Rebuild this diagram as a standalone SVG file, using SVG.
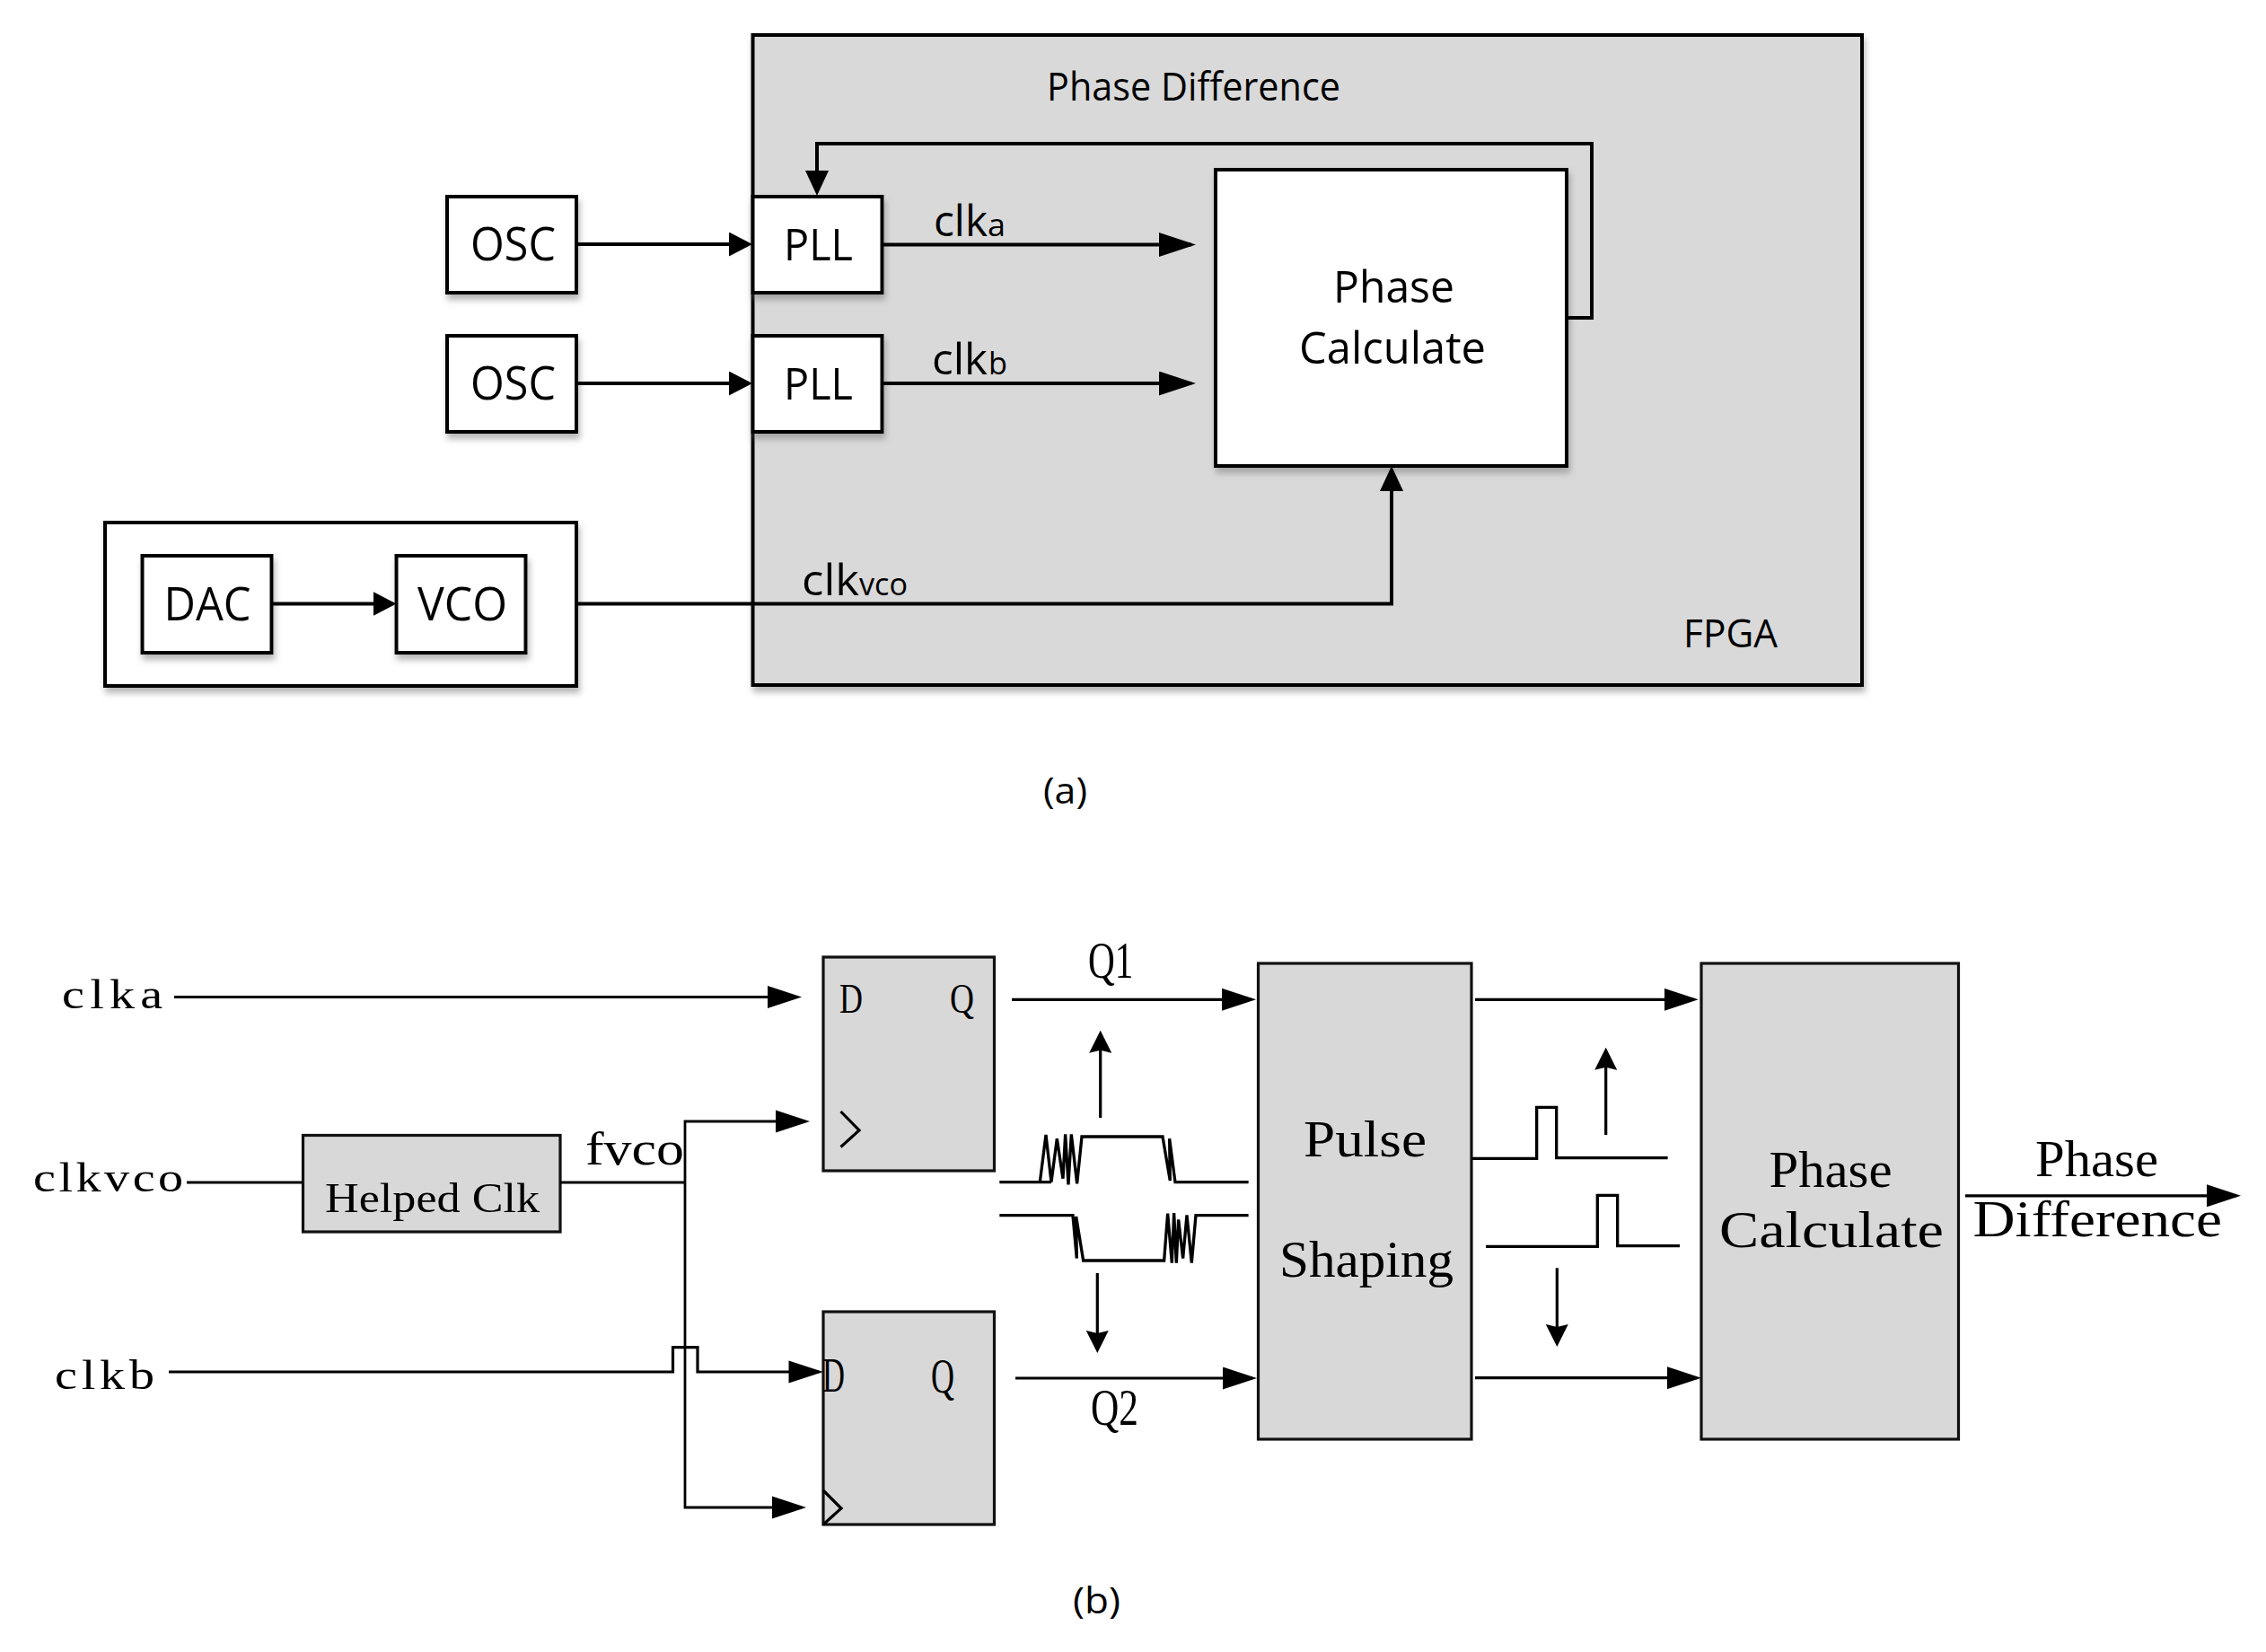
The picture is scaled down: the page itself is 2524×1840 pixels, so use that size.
<svg xmlns="http://www.w3.org/2000/svg" width="2524" height="1840" viewBox="0 0 2524 1840">
<style>
text{fill:#000}
.s{font-family:"Open Sans","Noto Sans",sans-serif}
.m{font-family:"Liberation Serif","Noto Sans CJK SC",serif}
.top{stroke:#000;stroke-width:4;fill:#fff;filter:url(#sh)}
.fpga{fill:#d9d9d9}
.bot{stroke:#111;stroke-width:3.2;fill:#d8d8d8}
.w{fill:none;stroke:#000;stroke-width:4;stroke-linejoin:miter}
.b{fill:none;stroke:#000;stroke-width:3.2;stroke-linejoin:miter}
.wave{fill:none;stroke:#000;stroke-width:10;stroke-linejoin:miter}
</style>
<defs>
<filter id="sh" x="-10%" y="-10%" width="120%" height="125%"><feDropShadow dx="2" dy="6" stdDeviation="3.5" flood-color="#7a7a7a" flood-opacity="0.55"/></filter>
<marker id="ah41" markerUnits="userSpaceOnUse" markerWidth="41" markerHeight="27" refX="36" refY="13.5" orient="auto"><polygon points="0,0 41,13.5 0,27"/></marker>
<marker id="ah26" markerUnits="userSpaceOnUse" markerWidth="26" markerHeight="27" refX="21" refY="13.5" orient="auto"><polygon points="0,0 26,13.5 0,27"/></marker>
<marker id="ah28" markerUnits="userSpaceOnUse" markerWidth="28" markerHeight="26" refX="23" refY="13" orient="auto"><polygon points="0,0 28,13 0,26"/></marker>
<marker id="ah38" markerUnits="userSpaceOnUse" markerWidth="38" markerHeight="25" refX="33" refY="12.5" orient="auto"><polygon points="0,0 38,12.5 0,25"/></marker>
<marker id="ah25" markerUnits="userSpaceOnUse" markerWidth="25" markerHeight="25" refX="20" refY="12.5" orient="auto"><polygon points="0,0 25,12.5 0,25 3,12.5"/></marker>
</defs>

<g id="fpga"><rect class="top fpga" x="838.500" y="39" width="1235.500" height="724"/>
<text class="s" x="1166" y="112" font-size="43" textLength="327" lengthAdjust="spacingAndGlyphs">Phase Difference</text>
<text class="s" x="1875" y="721" font-size="43" textLength="105" lengthAdjust="spacingAndGlyphs">FPGA</text></g>
<g id="osc-a"><rect class="top" x="498" y="219" width="144" height="107"/><text class="s" x="524" y="289.500" font-size="51" textLength="95" lengthAdjust="spacingAndGlyphs">OSC</text></g>
<g id="osc-b"><rect class="top" x="498" y="374" width="144" height="107"/><text class="s" x="524" y="445" font-size="51" textLength="95" lengthAdjust="spacingAndGlyphs">OSC</text></g>
<g id="pll-a"><rect class="top" x="838.500" y="219" width="144" height="107"/><text class="s" x="873" y="289.500" font-size="50" textLength="77" lengthAdjust="spacingAndGlyphs">PLL</text></g>
<g id="pll-b"><rect class="top" x="838.500" y="374" width="144" height="107"/><text class="s" x="873" y="445" font-size="50" textLength="77" lengthAdjust="spacingAndGlyphs">PLL</text></g>
<g id="phase-calc-a"><rect class="top" x="1354" y="189" width="391" height="330"/>
<text class="s" x="1485" y="337" font-size="50" textLength="135" lengthAdjust="spacingAndGlyphs">Phase</text>
<text class="s" x="1447" y="405" font-size="50" textLength="208" lengthAdjust="spacingAndGlyphs">Calculate</text></g>
<g id="vco-board"><rect class="top" x="117" y="582" width="525" height="182"/></g>
<g id="dac"><rect class="top" x="158.500" y="619" width="144" height="108"/><text class="s" x="182.500" y="690.500" font-size="51" textLength="97" lengthAdjust="spacingAndGlyphs">DAC</text></g>
<g id="vco"><rect class="top" x="441.500" y="619" width="144" height="108"/><text class="s" x="465" y="690.500" font-size="51" textLength="100" lengthAdjust="spacingAndGlyphs">VCO</text></g>

<g id="ff1"><rect class="bot" x="917" y="1066" width="190.500" height="238"/>
<polyline class="b" points="936.500,1238 957,1259 936.500,1277.500"/>
<text class="m" x="935" y="1128" font-size="46" textLength="26" lengthAdjust="spacingAndGlyphs">D</text>
<text class="m" x="1058" y="1128" font-size="46" textLength="27" lengthAdjust="spacingAndGlyphs">Q</text></g>
<g id="ff2"><rect class="bot" x="917" y="1461" width="190.500" height="237"/>
<polyline class="b" points="917,1660 937,1680 917,1698"/>
<text class="m" x="916" y="1550" font-size="54" textLength="25" lengthAdjust="spacingAndGlyphs">D</text>
<text class="m" x="1037" y="1550.500" font-size="54" textLength="26" lengthAdjust="spacingAndGlyphs">Q</text></g>
<g id="helped-clk"><rect class="bot" x="337.500" y="1264.500" width="286.500" height="107.500"/>
<text class="m" x="362" y="1350" font-size="46" textLength="239" lengthAdjust="spacingAndGlyphs">Helped Clk</text></g>
<g id="pulse-shaping"><rect class="bot" x="1401.500" y="1073" width="237.500" height="530"/>
<text class="m" x="1452" y="1287.500" font-size="56" textLength="137" lengthAdjust="spacingAndGlyphs">Pulse</text>
<text class="m" x="1425" y="1421.500" font-size="56" textLength="194" lengthAdjust="spacingAndGlyphs">Shaping</text></g>
<g id="phase-calc-b"><rect class="bot" x="1895" y="1073" width="286.500" height="530"/>
<text class="m" x="1970.500" y="1322" font-size="56" textLength="137" lengthAdjust="spacingAndGlyphs">Phase</text>
<text class="m" x="1915" y="1389" font-size="56" textLength="250" lengthAdjust="spacingAndGlyphs">Calculate</text></g>

<g id="connectors">
<g class="w">
<path d="M642 272H833" marker-end="url(#ah26)"/>
<path d="M642 427H833" marker-end="url(#ah26)"/>
<path d="M302.500 672.500H436.500" marker-end="url(#ah26)"/>
<path d="M982 272.500H1327" marker-end="url(#ah41)"/>
<path d="M982 427H1327" marker-end="url(#ah41)"/>
<path d="M1745 354H1773V160H910V213" marker-end="url(#ah28)"/>
<path d="M642 672.500H1550V524" marker-end="url(#ah28)"/>
</g>
<g class="b">
<path d="M194 1110.500H888" marker-end="url(#ah38)"/>
<path d="M208 1317H337"/>
<path d="M624 1317H763"/>
<path d="M897 1249H763V1679H893" stroke-width="2.800"/>
<path d="M188 1528H749.500V1500.700H777V1528H912"/>
<path d="M1127 1113.300H1394" marker-end="url(#ah38)"/>
<path d="M1131 1535H1395" marker-end="url(#ah38)"/>
<path d="M1643 1113.300H1886.700" marker-end="url(#ah38)"/>
<path d="M1643 1534.700H1890" marker-end="url(#ah38)"/>
<path d="M2189 1331.800H2491" marker-end="url(#ah38)"/>
<path d="M1225.700 1245V1152.700" marker-end="url(#ah25)"/>
<path d="M1222.300 1418V1502" marker-end="url(#ah25)"/>
<path d="M1788.700 1264V1171.700" marker-end="url(#ah25)"/>
<path d="M1734.300 1412.300V1495" marker-end="url(#ah25)"/>
</g>
<polygon points="864,1236.500 902,1249 864,1261.500"/>
<polygon points="860,1666.500 898,1679 860,1691.500"/>
<polygon points="878.500,1515.500 917,1528 878.500,1540.500"/>
</g>

<g id="waveforms">
<g transform="translate(1100 1200) scale(0.3333)">
<path class="wave" d="M40 350H213M175 350L195 192L213 350L232 205L252 338L260 190L270 358L280 190L299 355L315 198H585L610 345L608 205L627 350H872"/>
<path class="wave" d="M40 461H285L298 605L296 465L320 612H590L602 455L616 620L623 453L631 620L638 475L653 605L666 460L682 620L696 461H872"/>
</g>
<g transform="translate(1640 1130) scale(0.3333)">
<path class="wave" d="M0 481H215V310H281V479H653"/>
<path class="wave" d="M45 775H418V604H485V773H693"/>
</g>
</g>

<g id="labels">
<text class="s" y="263" font-size="47"><tspan x="1040" textLength="60" lengthAdjust="spacingAndGlyphs">clk</tspan><tspan x="1100" font-size="34" textLength="20" lengthAdjust="spacingAndGlyphs">a</tspan></text>
<text class="s" y="417" font-size="47"><tspan x="1038" textLength="62" lengthAdjust="spacingAndGlyphs">clk</tspan><tspan x="1101" font-size="34" textLength="21" lengthAdjust="spacingAndGlyphs">b</tspan></text>
<text class="s" y="663" font-size="47"><tspan x="893" textLength="64" lengthAdjust="spacingAndGlyphs">clk</tspan><tspan x="957" font-size="34" textLength="54" lengthAdjust="spacingAndGlyphs">vco</tspan></text>
<text class="s" x="1162" y="895" font-size="40" textLength="49" lengthAdjust="spacingAndGlyphs">(a)</text>
<text class="s" x="1195" y="1797" font-size="40" textLength="53" lengthAdjust="spacingAndGlyphs">(b)</text>
<text class="m" transform="translate(69 1122.500) scale(1.22 1)" font-size="46" textLength="92">clka</text>
<text class="m" transform="translate(37 1326.500) scale(1.22 1)" font-size="46" textLength="137">clkvco</text>
<text class="m" transform="translate(61 1547) scale(1.22 1)" font-size="46" textLength="91">clkb</text>
<text class="m" x="652" y="1297" font-size="52" textLength="110" lengthAdjust="spacingAndGlyphs">fvco</text>
<text class="m" x="1212" y="1089" font-size="56" textLength="50.500" lengthAdjust="spacingAndGlyphs">Q1</text>
<text class="m" x="1215" y="1586.500" font-size="56" textLength="53" lengthAdjust="spacingAndGlyphs">Q2</text>
<text class="m" x="2267" y="1310" font-size="56" textLength="137" lengthAdjust="spacingAndGlyphs">Phase</text>
<text class="m" x="2197.500" y="1377" font-size="56" textLength="277.500" lengthAdjust="spacingAndGlyphs">Difference</text>
</g>
</svg>
